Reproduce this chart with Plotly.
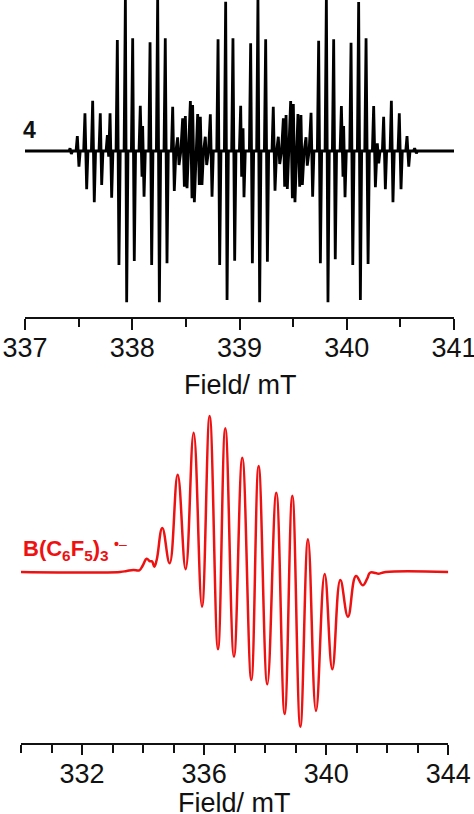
import numpy as np
import plotly.graph_objects as go

# top spectrum (compound 4): positive lobes, negative lobes, flat stretches between lines
up_field = [337.420, 337.488, 337.559, 337.631, 337.702, 337.768, 337.793, 337.861, 337.936, 338.004,
            338.075, 338.097, 338.166, 338.237, 338.308, 338.377, 338.423, 338.470, 338.495, 338.542,
            338.563, 338.610, 338.635, 338.681, 338.728, 338.800, 338.871, 338.939, 339.011, 339.033,
            339.104, 339.172, 339.244, 339.315, 339.362, 339.409, 339.434, 339.477, 339.502, 339.545,
            339.573, 339.620, 339.667, 339.738, 339.810, 339.878, 339.950, 339.971, 340.040, 340.111,
            340.180, 340.251, 340.285, 340.344, 340.416, 340.490, 340.562, 340.633]
up_signal = [2.7, 15, 37.7, 50.3, 37.7, 16, 37.7, 111, 154, 112.7,
             45.3, 25, 108.7, 154, 112.7, 44.3, 13.7, 32.7, 35, 50,
             46, 37, 34.3, 14.3, 36.7, 111.7, 149.3, 112.7, 45.3, 22.7,
             107.7, 154, 111.7, 44.3, 14.3, 32.7, 36, 50, 47, 37,
             36, 13.7, 38.3, 110.3, 154, 111.7, 45, 25, 108.3, 149,
             112.7, 45, 7.7, 34.3, 50.3, 37.7, 15, 2.7]
down_field = [337.432, 337.503, 337.575, 337.646, 337.715, 337.780, 337.808, 337.876, 337.948, 338.019,
              338.091, 338.110, 338.181, 338.253, 338.324, 338.392, 338.436, 338.486, 338.511, 338.557,
              338.579, 338.625, 338.650, 338.694, 338.744, 338.815, 338.884, 338.955, 339.020, 339.042,
              339.120, 339.188, 339.260, 339.331, 339.375, 339.421, 339.446, 339.493, 339.517, 339.561,
              339.586, 339.632, 339.682, 339.754, 339.825, 339.893, 339.965, 339.984, 340.056, 340.127,
              340.199, 340.267, 340.298, 340.360, 340.431, 340.506, 340.578, 340.649]
down_signal = [-3, -15.7, -38.3, -51.3, -34, -5.7, -46.7, -114, -151.3, -110,
               -25.7, -45.7, -114, -151.3, -112.3, -40, -14, -35.7, -37.3, -47.3,
               -51.3, -34, -34, -14, -45.7, -114, -149, -109.7, -25.7, -46.3,
               -112.3, -151.3, -110.7, -39.7, -13, -35.7, -38, -47.3, -51.3, -35.7,
               -34, -14.7, -45.7, -112.3, -151.3, -108.3, -25.7, -46.3, -114, -149,
               -113, -36.3, -12.3, -38.3, -51.3, -38.3, -15.7, -2.3]
flat_field = [337.000, 337.410, 337.444, 337.476, 337.515, 337.547, 337.587, 337.619, 337.658, 337.690,
              337.727, 337.756, 337.820, 337.849, 337.888, 337.924, 337.960, 337.992, 338.031, 338.063,
              338.122, 338.154, 338.193, 338.225, 338.265, 338.296, 338.336, 338.365, 338.407, 338.453,
              338.665, 338.711, 338.756, 338.788, 338.827, 338.859, 338.896, 338.927,
              338.967, 338.999, 339.054, 339.092, 339.132, 339.160, 339.200, 339.232, 339.272, 339.303,
              339.346, 339.392, 339.603, 339.649, 339.694, 339.726, 339.766, 339.798,
              339.837, 339.866, 339.905, 339.938, 339.996, 340.028, 340.068, 340.099, 340.139, 340.168,
              340.211, 340.239, 340.310, 340.332, 340.372, 340.404, 340.443, 340.478, 340.518, 340.550,
              340.590, 340.621, 340.660, 341.000]

# bottom spectrum B(C6F5)3 radical anion
red_field = [330.000, 333.243, 333.462, 333.680, 333.877, 333.986, 334.117, 334.226, 334.292, 334.368,
             334.445, 334.630, 334.870, 335.133, 335.395, 335.657, 335.930, 336.181, 336.454, 336.694,
             336.978, 337.251, 337.546, 337.786, 338.070, 338.365, 338.638, 338.890, 339.152, 339.403,
             339.665, 339.949, 340.200, 340.462, 340.713, 340.975, 341.194, 341.346, 341.434, 341.619,
             341.707, 341.947, 344.000]
red_signal = [0, 0, 1, 2, 1.7, 6.3, 13.3, 10.7, 10.7, 5.3,
              12, 44, 8.7, 97.3, 2.7, 139.3, -34.7, 156, -77.3, 143.7,
              -84.7, 114.3, -108, 106, -112.3, 79.3, -142, 76.3, -154.7, 32.7,
              -139, -2, -97.3, -8, -44.7, -4, -13.3, -6.3, -0.7, -1,
              -1.7, 0, 0]

top_ticks = [337, 338, 339, 340, 341]
bottom_ticks = [332, 336, 340, 344]

x4 = np.array(up_field + down_field + flat_field)
y4 = np.array(up_signal + down_signal + [0] * len(flat_field))
order = np.argsort(x4)

fig = go.Figure()
fig.add_trace(go.Scatter(x=x4[order], y=y4[order], mode='lines', xaxis='x', yaxis='y',
                         line=dict(color='black', width=2.8, simplify=False)))
fig.add_trace(go.Scatter(x=red_field, y=red_signal, mode='lines', xaxis='x2', yaxis='y2',
                         line=dict(color='#ee1111', width=2.5, shape='spline', smoothing=1.2)))

tick_font = dict(family='Liberation Sans', size=27, color='#111111')

fig.update_layout(
    width=474,
    height=814,
    margin=dict(l=0, r=0, t=0, b=0),
    showlegend=False,
    plot_bgcolor='white',
    paper_bgcolor='white',
    font_family='Liberation Sans',
    xaxis=dict(domain=[25 / 474, 454 / 474], range=[337, 341], anchor='y', automargin=False,
               tickvals=top_ticks, ticks='outside', ticklen=11, tickwidth=1.6, tickcolor='#111111',
               minor=dict(dtick=0.5, tick0=337, ticks='outside', ticklen=8, tickwidth=1.6, tickcolor='#111111'),
               showline=True, linewidth=1.6, linecolor='#111111', showgrid=False, zeroline=False,
               ticklabeloverflow='allow', ticklabelstandoff=-5, tickfont=tick_font),
    yaxis=dict(domain=[(814 - 317) / 814, 1], range=[-166, 151], visible=False),
    xaxis2=dict(domain=[21 / 474, 448.3 / 474], range=[330, 344], anchor='y2', automargin=False,
                tickvals=bottom_ticks, ticks='outside', ticklen=10, tickwidth=1.6, tickcolor='#111111',
                minor=dict(dtick=1, tick0=330, ticks='outside', ticklen=8, tickwidth=1.6, tickcolor='#111111'),
                showline=True, linewidth=1.6, linecolor='#111111', showgrid=False, zeroline=False,
                ticklabeloverflow='allow', ticklabelstandoff=-5, tickfont=tick_font),
    yaxis2=dict(domain=[(814 - 743.3) / 814, (814 - 400) / 814], range=[-171.3, 172], visible=False),
)

# axis titles placed by hand, the bottom one sits right on the page edge
fig.add_annotation(text='Field/ mT', xref='paper', yref='paper', x=240 / 474, y=(814 - 385) / 814,
                   xanchor='center', yanchor='middle', showarrow=False, font=tick_font)
fig.add_annotation(text='Field/ mT', xref='paper', yref='paper', x=234 / 474, y=(814 - 803) / 814,
                   xanchor='center', yanchor='middle', showarrow=False, font=tick_font)
fig.add_annotation(text='<b>4</b>', xref='paper', yref='paper', x=29 / 474, y=(814 - 130) / 814,
                   xanchor='center', yanchor='middle', showarrow=False,
                   font=dict(family='Liberation Sans', size=23, color='#111111'))
fig.add_annotation(text='<b>B(C<sub>6</sub>F<sub>5</sub>)<sub>3</sub></b>', xref='paper', yref='paper',
                   x=21 / 474, y=(814 - 550) / 814, xanchor='left', yanchor='middle', showarrow=False,
                   font=dict(family='Liberation Sans', size=22, color='#ee1111'))
fig.add_annotation(text='<b>•</b>–', xref='paper', yref='paper', x=112 / 474, y=(814 - 544) / 814,
                   xanchor='left', yanchor='middle', showarrow=False,
                   font=dict(family='Liberation Sans', size=14, color='#ee1111'))

fig.write_html("out.html", config=dict(displayModeBar=False), post_script="document.body.style.margin='0';")
